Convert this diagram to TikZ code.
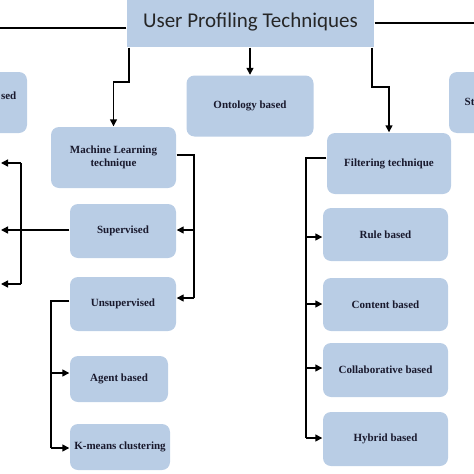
\documentclass[tikz,border=0pt]{standalone}
\usepackage{fontspec}
\setmainfont{Liberation Serif}
\newfontfamily\titlefont{Carlito}
\usetikzlibrary{arrows.meta}
\definecolor{boxblue}{RGB}{185,205,229}
\definecolor{boxtext}{RGB}{25,25,45}
\begin{document}
\begin{tikzpicture}[x=1pt,y=-1pt,line width=1.4pt,
  box/.style={fill=boxblue,rounded corners=8pt,text=boxtext,font=\fontsize{11}{13}\selectfont\bfseries,align=center,inner sep=0pt},
  arr/.style={-{Triangle[length=7pt,width=7pt]}}]
\useasboundingbox (0,0) rectangle (474,474);
\begin{scope}
\clip (0,0) rectangle (474,474);
% top level
\node[fill=boxblue,minimum width=247pt,minimum height=49pt,inner sep=0pt,text=black!85,font=\titlefont\fontsize{21}{24}\selectfont] (top) at (250.5,22.5){User Profiling Techniques};
\node[box,minimum width=127pt,minimum height=61pt] (usage) at (-36.5,102.5){};
\node[box,anchor=east] (usagetxt) at (17,96){sed};
\node[box,minimum width=127pt,minimum height=61pt] (onto) at (250,106){Ontology based};
\node[box,minimum width=127pt,minimum height=61pt] (stereo) at (512.5,102.5){};
\node[box,anchor=west] (stereotxt) at (464,102){St};
% machine learning branch
\node[box,minimum width=125pt,minimum height=61pt] (ml) at (113.5,157.5){Machine Learning\\technique};
\node[box,minimum width=106pt,minimum height=54pt] (sup) at (123,231){Supervised};
\node[box,minimum width=106pt,minimum height=54pt] (unsup) at (123,304){Unsupervised};
\node[box,minimum width=98pt,minimum height=46pt] (agent) at (119,379){Agent based};
\node[box,minimum width=100pt,minimum height=46pt] (kmeans) at (120,447){K-means clustering};
% filtering branch
\node[box,minimum width=124pt,minimum height=61pt] (filt) at (389,163.5){Filtering technique};
\node[box,minimum width=125pt,minimum height=53pt] (rule) at (385.5,234.5){Rule based};
\node[box,minimum width=125pt,minimum height=53pt] (content) at (385.5,304.5){Content based};
\node[box,minimum width=125pt,minimum height=54pt] (collab) at (385.5,370){Collaborative based};
\node[box,minimum width=125pt,minimum height=54pt] (hybrid) at (385.5,439){Hybrid based};
% bus coordinates
\coordinate (lend) at (0,28);
\coordinate (rend) at (474,23);
\coordinate (mlbus) at (194,155);
\coordinate (lbus) at (21,163);
\coordinate (ubus) at (51,301);
\coordinate (fbus) at (306,158);
\coordinate (la) at (1,163);
\coordinate (lb) at (1,230);
\coordinate (lc) at (1,284);
% connectors
\draw (top.west |- lend) -- (lend);
\draw (top.east |- rend) -- (rend);
\draw[arr] (top.south -| 129,0) -- (129,82) -| (ml.north);
\draw[arr] (top.south -| onto.north) -- (onto.north);
\draw[arr] (top.south -| 372,0) -- (372,87) -| (filt.north);
\draw (ml.east |- mlbus) -- (mlbus) -- (194,298);
\draw[arr] (194,230) -- (sup.east |- 0,230);
\draw[arr] (194,298) -- (unsup.east |- 0,298);
\draw (lbus) -- (21,284);
\draw[arr] (sup.west |- lb) -- (lb);
\draw[arr] (lbus) -- (la);
\draw[arr] (21,284) -- (lc);
\draw (unsup.west |- ubus) -- (ubus) -- (51,448);
\draw[arr] (51,373) -- (agent.west |- 0,373);
\draw[arr] (51,448) -- (kmeans.west |- 0,448);
\draw (filt.west |- fbus) -- (fbus) -- (306,438);
\draw[arr] (306,237) -- (rule.west |- 0,237);
\draw[arr] (306,304) -- (content.west |- 0,304);
\draw[arr] (306,368) -- (collab.west |- 0,368);
\draw[arr] (306,438) -- (hybrid.west |- 0,438);
\end{scope}
\end{tikzpicture}
\end{document}
